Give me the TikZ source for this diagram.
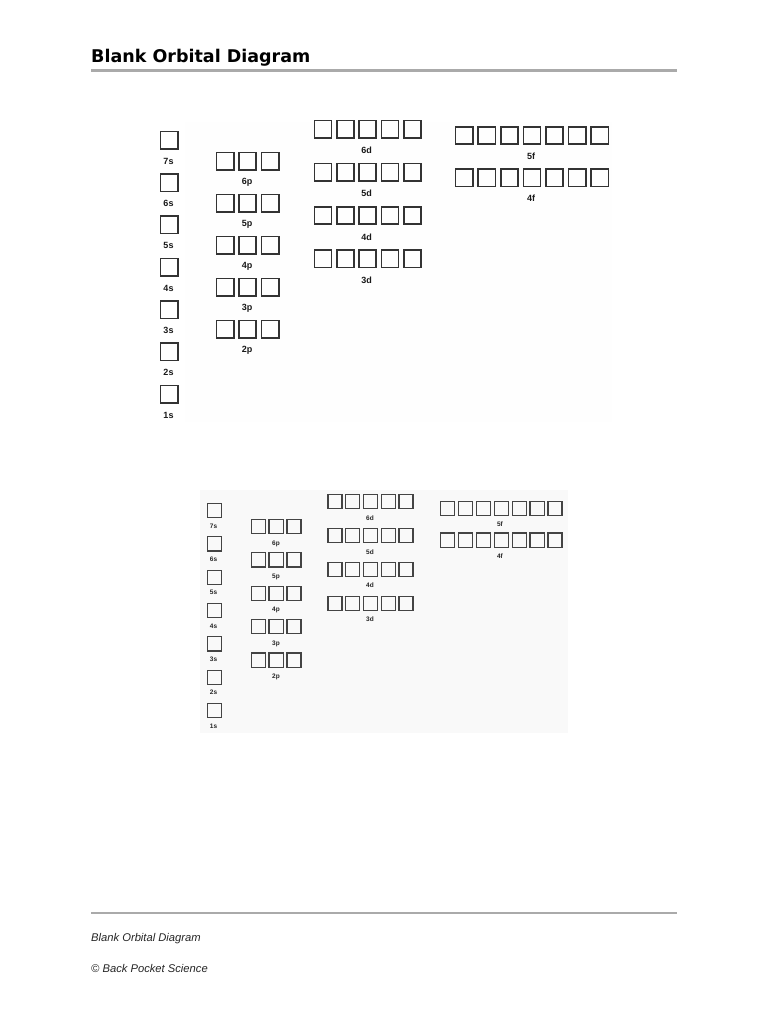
\documentclass[tikz,border=0pt]{standalone}
\usepackage{fontspec}
\setmainfont{Liberation Sans}
\newfontfamily\titlefont{DejaVu Sans}
\definecolor{rulegray}{HTML}{AAAAAA}
\definecolor{boxline}{HTML}{333333}
\definecolor{boxlinesm}{HTML}{444444}
\definecolor{panelbg}{HTML}{F9F9F9}
\definecolor{panelbgtop}{HTML}{FEFEFE}
\begin{document}
\begin{tikzpicture}[x=1pt,y=-1pt,
  tbox/.style={draw=boxline, line width=1.6pt, minimum width=17.1pt, minimum height=17.4pt, inner sep=0pt, anchor=north west},
  bbox/.style={draw=boxlinesm, line width=1.2pt, minimum width=14.1pt, minimum height=14.2pt, inner sep=0pt, anchor=north west},
  tlab/.style={font=\bfseries\fontsize{9}{10}\selectfont, text=black!90, anchor=base, inner sep=0pt},
  blab/.style={font=\bfseries\fontsize{6.5}{7}\selectfont, text=black!85, anchor=base, inner sep=0pt},
  footer/.style={font=\itshape\fontsize{11.2}{13}\selectfont, text=black!85, anchor=base west, inner sep=0pt}]
\useasboundingbox[fill=white] (0,0) rectangle (768,1024);
% title
\node[anchor=base west, inner sep=0pt, font=\titlefont\bfseries\fontsize{17.5}{20}\selectfont] (title) at (91,63) {Blank Orbital Diagram};
\draw[rulegray, line width=2.6pt] (91,70.6) -- (677,70.6);
% faint panels
\fill[panelbgtop] (185,122) rectangle (612,422);
\fill[panelbg] (200,490) rectangle (568,733);
% ===== top diagram =====
\foreach \n [count=\i from 0] in {7,6,5,4,3,2,1} {
  \pgfmathsetmacro\t{130.8+42.33*\i}
  \node[tbox] (ts\n) at (159.8,\t) {};
  \node[tlab] (tsl\n) at (168.5,\t+33.4) {\n s};
}
\foreach \n [count=\i from 0] in {6,5,4,3,2} {
  \pgfmathsetmacro\t{151.8+42*\i}
  \foreach \j in {0,1,2} {
    \node[tbox] (tp\n-\j) at (215.8+22.5*\j,\t) {};
  }
  \node[tlab] (tpl\n) at (247,\t+32.4) {\n p};
}
\foreach \n [count=\i from 0] in {6,5,4,3} {
  \pgfmathsetmacro\t{119.8+43.1*\i}
  \foreach \j in {0,...,4} {
    \node[tbox] (td\n-\j) at (313.5+22.4*\j,\t) {};
  }
  \node[tlab] (tdl\n) at (366.7,\t+34.1) {\n d};
}
\foreach \n [count=\i from 0] in {5,4} {
  \pgfmathsetmacro\t{126.1+42.4*\i}
  \foreach \j in {0,...,6} {
    \node[tbox] (tf\n-\j) at (454.8+22.6*\j,\t) {};
  }
  \node[tlab] (tfl\n) at (531,\t+33.1) {\n f};
}
% ===== bottom diagram =====
\foreach \n [count=\i from 0] in {7,6,5,4,3,2,1} {
  \pgfmathsetmacro\t{502.9+33.33*\i}
  \node[bbox] (bs\n) at (206.6,\t) {};
  \node[blab] (bsl\n) at (213.5,\t+25.4) {\n s};
}
\foreach \n [count=\i from 0] in {6,5,4,3,2} {
  \pgfmathsetmacro\t{518.9+33.35*\i}
  \foreach \j in {0,1,2} {
    \node[bbox] (bp\n-\j) at (250.6+17.85*\j,\t) {};
  }
  \node[blab] (bpl\n) at (276,\t+26.1) {\n p};
}
\foreach \n [count=\i from 0] in {6,5,4,3} {
  \pgfmathsetmacro\t{493.9+33.9*\i}
  \foreach \j in {0,...,4} {
    \node[bbox] (bd\n-\j) at (327.3+17.75*\j,\t) {};
  }
  \node[blab] (bdl\n) at (370,\t+26.2) {\n d};
}
\foreach \n [count=\i from 0] in {5,4} {
  \pgfmathsetmacro\t{500.6+31.7*\i}
  \foreach \j in {0,...,6} {
    \node[bbox] (bf\n-\j) at (439.9+17.9*\j,\t) {};
  }
  \node[blab] (bfl\n) at (500,\t+25.7) {\n f};
}
% footer
\draw[rulegray, line width=2pt] (91,912.5) -- (677,912.5);
\node[footer] (foot1) at (91,941.5) {Blank Orbital Diagram};
\node[footer] (foot2) at (91,972.5) {© Back Pocket Science};
\end{tikzpicture}
\end{document}
